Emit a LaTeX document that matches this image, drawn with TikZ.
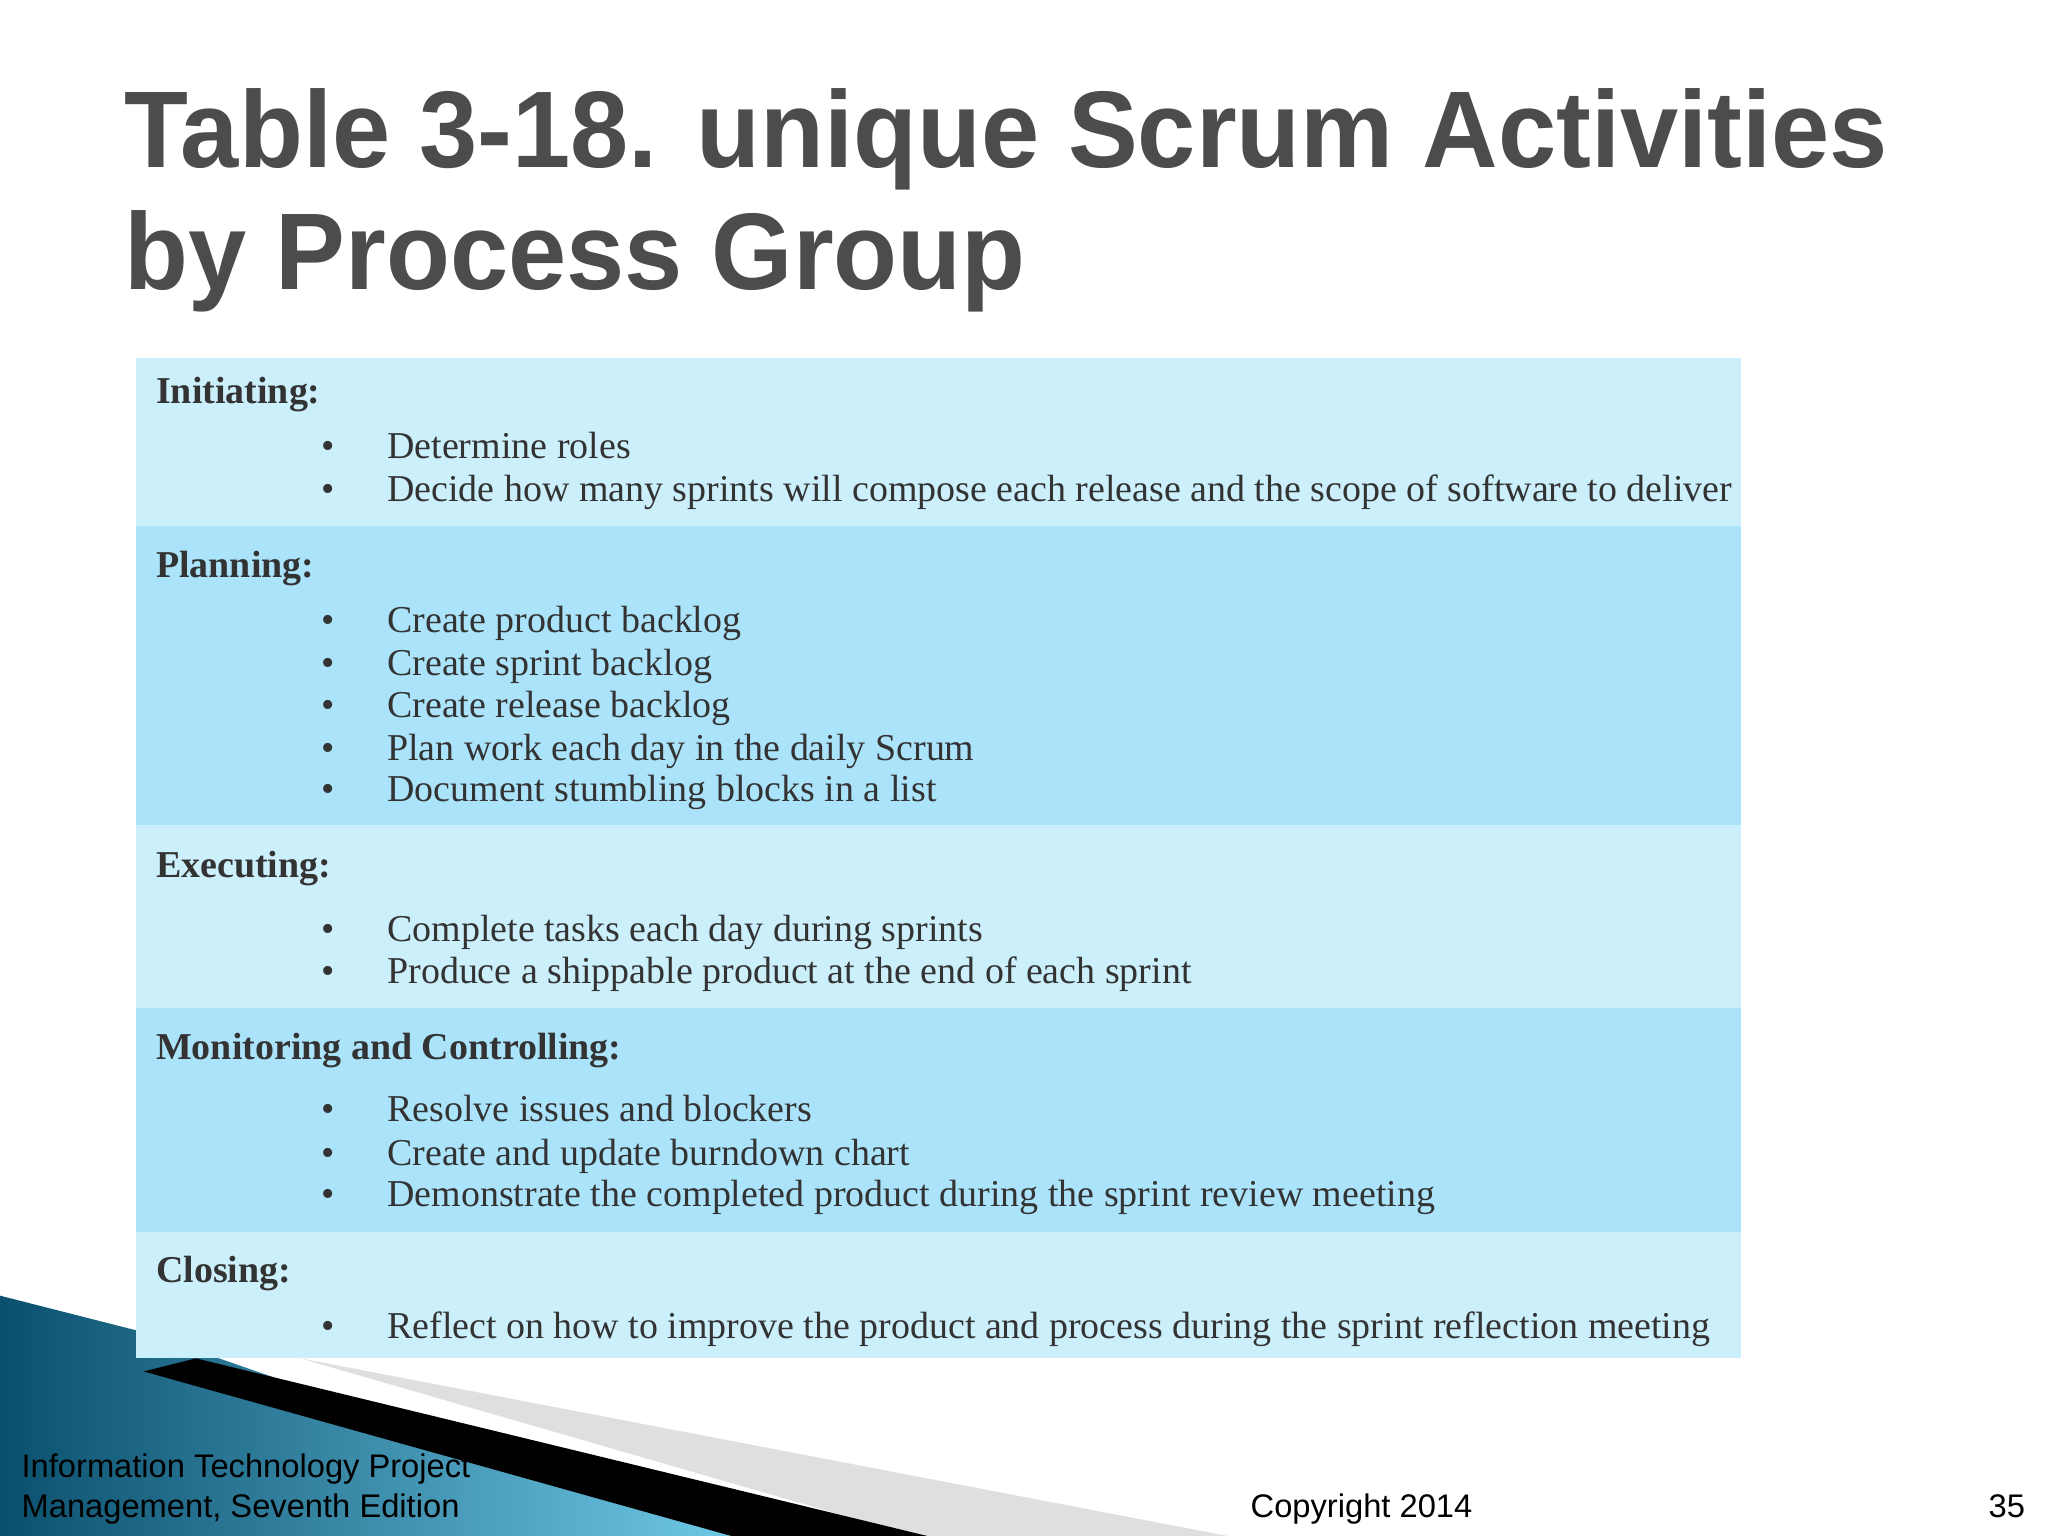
\documentclass[tikz,border=0pt]{standalone}
\usepackage{fontspec}
\setmainfont{Liberation Serif}
\newfontfamily\titlefont{Liberation Sans}
\newfontfamily\footfont{Liberation Sans}
\definecolor{decA}{RGB}{10,80,110}
\definecolor{decB}{RGB}{110,200,230}
\begin{document}
\begin{tikzpicture}[x=0.013061cm,y=-0.013061cm,every node/.style={inner sep=0pt},
  hdr/.style={anchor=base west,font=\fontsize{10.8}{12}\selectfont\bfseries,text=black!80},
  itm/.style={anchor=base west,font=\fontsize{10.8}{12}\selectfont,text=black!80},
  bul/.style={anchor=base,font=\fontsize{10.8}{12}\selectfont,text=black!80},
  ttl/.style={anchor=base west,font=\titlefont\bfseries\fontsize{31}{36}\selectfont,text=black!70},
  foot/.style={anchor=base west,font=\footfont\fontsize{9.3}{11}\selectfont,align=left}]
\useasboundingbox (0,0) rectangle (1568,1176);
\fill[white] (0,0) rectangle (1568,1176);
% decoration
\shade[left color=decA,right color=decB] (0,992) -- (110,1020) -- (560,1176) -- (0,1176) -- cycle;
\fill[gray!25] (230,1040) -- (940,1176) -- (700,1176) -- cycle;
\fill[black] (150,1040) -- (710,1176) -- (560,1176) -- (110,1050) -- cycle;
% title
\node[ttl] (t1) at (95,128) {\scalebox{0.96}[1]{Table 3-18. unique Scrum Activities}};
\node[ttl] (t2) at (95,222) {\scalebox{0.96}[1]{by Process Group}};
% bands
\fill[cyan!20!white] (104,274) rectangle (1333,403);
\fill[cyan!33!white] (104,403) rectangle (1333,632);
\fill[cyan!20!white] (104,632) rectangle (1333,772);
\fill[cyan!33!white] (104,772) rectangle (1333,943);
\fill[cyan!20!white] (104,943) rectangle (1333,1040);
\node[hdr] (h1) at (119,309) {Initiating:};
\node[bul] at (251,351) {•}; \node[itm] (a1) at (296,351) {Determine roles};
\node[bul] at (251,384) {•}; \node[itm] (a2) at (296,384) {Decide how many sprints will compose each release and the scope of software to deliver};
\node[hdr] (h2) at (119,442) {Planning:};
\node[bul] at (251,484) {•}; \node[itm] (b1) at (296,484) {Create product backlog};
\node[bul] at (251,517) {•}; \node[itm] (b2) at (296,517) {Create sprint backlog};
\node[bul] at (251,549) {•}; \node[itm] (b3) at (296,549) {Create release backlog};
\node[bul] at (251,582) {•}; \node[itm] (b4) at (296,582) {Plan work each day in the daily Scrum};
\node[bul] at (251,614) {•}; \node[itm] (b5) at (296,614) {Document stumbling blocks in a list};
\node[hdr] (h3) at (119,672) {Executing:};
\node[bul] at (251,721) {•}; \node[itm] (c1) at (296,721) {Complete tasks each day during sprints};
\node[bul] at (251,753) {•}; \node[itm] (c2) at (296,753) {Produce a shippable product at the end of each sprint};
\node[hdr] (h4) at (119,811) {Monitoring and Controlling:};
\node[bul] at (251,859) {•}; \node[itm] (d1) at (296,859) {Resolve issues and blockers};
\node[bul] at (251,892) {•}; \node[itm] (d2) at (296,892) {Create and update burndown chart};
\node[bul] at (251,924) {•}; \node[itm] (d3) at (296,924) {Demonstrate the completed product during the sprint review meeting};
\node[hdr] (h5) at (119,982) {Closing:};
\node[bul] at (251,1025) {•}; \node[itm] (e1) at (296,1025) {Reflect on how to improve the product and process during the sprint reflection meeting};
% footer
\node[foot] (f1) at (16,1131) {Information Technology Project};
\node[foot] (f2) at (16,1162) {Management, Seventh Edition};
\node[foot] (f3) at (957,1162) {Copyright 2014};
\node[foot] (f4) at (1522,1162) {35};
\end{tikzpicture}
\end{document}
